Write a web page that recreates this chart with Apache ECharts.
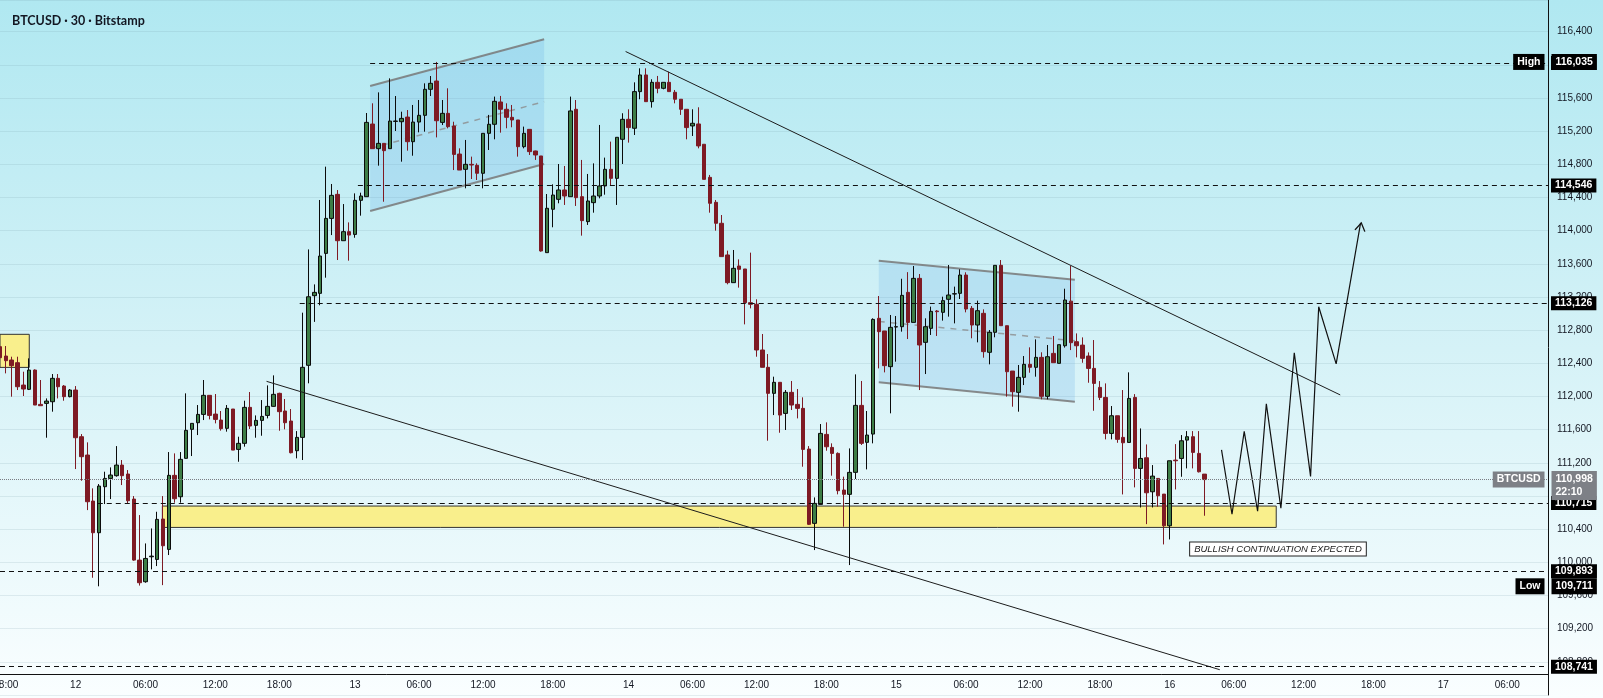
<!DOCTYPE html>
<html>
<head>
<meta charset="utf-8">
<script src="https://cdn.jsdelivr.net/npm/echarts@6/dist/echarts.min.js"></script>
<style>
  html, body { margin: 0; padding: 0; }
  #chart { width: 1603px; height: 698px; }
</style>
</head>
<body>
<div id="chart"></div>
<script>
// BTCUSD 30m candles, 11 Sep 17:30 onwards
const openP = [
  112601,112488,112440,112408,112138,112086,112319,111905,111917,111937,
  112219,112126,111998,112078,111515,111294,110739,110357,110912,111012,
  111045,111173,111065,110763,110027,109766,110067,110035,110522,110156,
  111049,110791,111254,111604,111684,111784,112014,111788,111716,111616,
  111849,111362,111435,111869,111652,111712,111772,111881,112038,111825,
  111704,111346,111507,112376,113216,113244,113726,114148,114438,113879,
  113988,113955,114366,114410,115286,114989,115053,114989,115318,115314,
  115370,115073,115310,115391,115705,115805,115306,115415,115262,114924,
  114740,114800,114788,114692,115174,115283,115552,115464,115367,115335,
  115013,115222,114961,114901,113735,114258,114378,114491,114410,115464,
  114410,114109,114338,114418,114539,114740,114631,115102,115343,115235,
  115677,115878,115556,115789,115717,115789,115669,115585,115464,115263,
  115287,115042,114643,114342,114089,113707,113373,113574,113538,113132,
  113112,112561,112352,112038,112171,111796,112050,111905,111857,111366,
  110470,110699,111543,111386,111314,110872,110820,111085,111893,111447,
  111547,112943,112790,112360,112838,112842,113256,112894,113425,112653,
  112822,113031,113015,113172,113236,113244,113465,113063,112862,113003,
  112533,112774,113582,112854,112307,112050,112231,112388,112352,112472,
  112002,112520,112400,112612,113150,112661,112620,112488,112339,112110,
  111989,111555,111768,111507,111446,111989,111133,111261,110851,111012,
  110823,110441,111233,111253,111474,111515,111314,111064
];
const closeP = [
  112468,112432,112372,112118,112090,112319,111897,111889,111945,112219,
  112118,111998,112078,111503,111274,110731,110357,110920,111012,111053,
  111173,111045,110743,110027,109754,110047,110075,110518,110200,111049,
  110767,111242,111592,111676,111784,112014,111772,111724,111612,111857,
  111354,111435,111869,111644,111712,111760,111881,112026,111817,111684,
  111322,111507,112352,113203,113256,113694,114148,114426,113879,113988,
  113947,114366,114418,115306,114989,115053,114965,115322,115322,115354,
  115073,115310,115391,115705,115777,115326,115415,115254,114920,114731,
  114800,114792,114692,115174,115283,115560,115464,115367,115335,115013,
  115174,114953,114913,113755,114270,114430,114491,114418,115444,114398,
  114121,114358,114418,114539,114740,114631,115126,115343,115243,115677,
  115878,115556,115789,115717,115789,115677,115585,115464,115243,115295,
  115022,114619,114330,114089,113687,113373,113546,113534,113132,113112,
  112561,112352,112038,112171,111776,112050,111897,111857,111362,110458,
  110711,111555,111394,111314,110864,110820,111085,111893,111435,111535,
  112930,112782,112372,112834,112842,113220,112894,113425,112621,112842,
  113027,113023,113156,113224,113240,113465,113055,112862,113035,112541,
  112774,113582,112854,112299,112058,112231,112388,112352,112472,112002,
  112480,112408,112625,113164,112649,112612,112460,112339,112158,111989,
  111555,111768,111483,111442,111977,111133,111253,110839,111040,110803,
  110441,111225,111225,111466,111515,111326,111092,110998
];
const lowP = [
  112279,112279,111998,112078,112006,112078,111897,111889,111503,111817,
  111977,111949,111990,111125,110984,110630,109814,109711,110703,110763,
  111033,110932,110711,110019,109720,109754,109915,109955,109725,110088,
  110719,110719,111250,111282,111535,111716,111724,111676,111588,111576,
  111354,111213,111395,111608,111503,111527,111736,111877,111587,111604,
  111314,111254,111234,112159,112900,113100,113433,113947,113646,113879,
  113638,113915,114181,114410,114989,114784,114349,114989,115202,114832,
  114965,114904,115186,115194,115624,115125,115274,115234,114731,114731,
  114511,114623,114611,114511,114973,115102,115182,115235,115247,114893,
  114993,114913,114853,113747,113735,114041,114330,114310,114410,114298,
  113940,114069,114217,114390,114434,114539,114310,114804,115062,115154,
  115585,115556,115484,115657,115705,115677,115536,115396,115102,115142,
  114993,114619,114217,114000,113687,113353,113373,113313,112870,113063,
  112480,112352,111467,111776,111563,111596,111837,111736,111153,110450,
  110148,110699,111346,111045,110820,110430,109967,111005,111415,111121,
  111435,112339,112291,111797,112420,112782,112693,112894,112078,112271,
  112742,112730,112915,112963,112882,113176,113015,112702,112653,112468,
  112388,112714,112854,111998,111877,111817,112138,112287,112239,111966,
  111966,112408,112400,112590,112560,112472,112407,112166,111828,111957,
  111483,111483,111442,110819,111446,110904,110662,110461,110662,110670,
  110216,110276,110879,111032,111133,111133,111084,110562
];
const highP = [
  112620,112609,112480,112480,112299,112460,112327,112199,111977,112271,
  112271,112138,112090,112126,111547,111447,110892,110944,111093,111145,
  111402,111234,111113,110799,110570,110228,110409,110610,110799,111330,
  111314,111330,112038,111676,111897,112199,112014,112030,111825,111897,
  111849,111515,111949,112054,111772,111957,112134,112255,112046,111970,
  111849,111583,113011,113774,113352,114370,114772,114563,114490,114321,
  114100,114450,114458,115419,115536,115668,115053,115837,115624,115435,
  115455,115516,115576,115777,115865,116035,115576,115717,115314,114993,
  115094,114893,114812,115174,115396,115617,115625,115536,115516,115335,
  115255,115222,114965,114901,114442,114559,114804,114780,115617,115576,
  114853,114684,114812,115275,114881,115074,115126,115416,115464,115789,
  115958,115958,115826,115866,115789,115918,115697,115585,115464,115464,
  115488,115042,114672,114370,114189,113759,113767,113654,113538,113735,
  113172,112754,112512,112239,112171,112078,112187,112090,111990,111402,
  110783,111668,111688,111435,111326,111033,111374,112267,112187,111825,
  112943,113212,112790,112983,112971,113420,113500,113574,113477,112943,
  113084,113043,113204,113586,113325,113534,113498,113091,113156,113051,
  112802,113582,113646,112854,112307,112380,112488,112593,112689,112533,
  112621,112730,112625,113300,113574,112761,112713,112532,112681,112186,
  112158,111885,111768,112078,112291,112029,111615,111422,111173,111012,
  110823,111225,111426,111535,111583,111583,111583,111064
];

// time axis labels and the bar slot they sit on
const tickLabels = ['18:00','12','06:00','12:00','18:00','13','06:00','12:00','18:00','14','06:00','12:00',
  '18:00','15','06:00','12:00','18:00','16','06:00','12:00','18:00','17','06:00'];
const tickSlots = [1,13,25,37,48,61,72,83,95,108,119,130,142,154,166,177,189,201,212,224,236,248,259];

// horizontal levels (price, first slot)
const levelPrices = [116022, 114546, 113126, 110715, 109893, 108741];
const levelStarts = [63.6, 61.5, 51.5, 16.8, 0, 0];
const lastPrice = 110998;
const lastCountdown = '22:10';
const highPrice = 116035;
const lowPrice = 109711;

// supply/demand boxes
const zoneStart = [0, 27.9];
const zoneEnd = [5.03, 219.3];
const zoneTop = [112750, 110679];
const zoneBottom = [112351, 110421];

// parallel channels: [slotStart, slotEnd, upperStart, upperEnd, lowerStart, lowerEnd]
const channels = [
  [63.6, 93.5, 115745, 116308, 114237, 114804],
  [151.0, 184.7, 113638, 113407, 112172, 111936]
];

// trendlines
const upperTrend = [[107.5, 116161], [230.3, 112019]];
const lowerTrend = [[45.8, 112183], [209.6, 108705]];

// projected path
const projSlots = [209.9, 211.7, 213.8, 216.1, 217.6, 220.1, 222.4, 225.2, 226.6, 229.6, 233.8];
const projPrices = [111357, 110580, 111579, 110616, 111912, 110653, 112528, 111036, 113083, 112393, 114094];

const noteText = 'BULLISH CONTINUATION EXPECTED';
const notePos = [219.6, 110160];

const SLOT_COUNT = 267;
const LAST = SLOT_COUNT - 1;
const FONT = 'Liberation Sans';
const fmt = v => Math.round(v).toLocaleString('en-US');

const slots = [];
for (let i = 0; i < SLOT_COUNT; i++) slots.push(String(i));
const candles = openP.map((o, i) => [o, closeP[i], lowP[i], highP[i]]);

const boxLabel = (text, bg, pos) => ({
  show: true, position: pos, distance: 3, formatter: text,
  backgroundColor: bg, color: '#fff', fontFamily: FONT, fontSize: 10.5, fontWeight: 'bold',
  padding: [2, 4, 1, 4], lineHeight: 13
});

const levelLines = levelPrices.map((p, i) => [
  { coord: [levelStarts[i], p], name: fmt(p) },
  { coord: [LAST, p] }
]);
levelLines.push([
  { coord: [0, lastPrice], lineStyle: { type: 'dotted', color: '#7a7d83', width: 1 }, label: { show: false } },
  { coord: [LAST, lastPrice] }
]);

const zoneData = zoneStart.map((s, i) => [
  { coord: [s, zoneTop[i]] },
  { coord: [zoneEnd[i], zoneBottom[i]] }
]);

const projData = projSlots.map((s, i) => [s, projPrices[i]]);
projData[projData.length - 1] = {
  value: projData[projData.length - 1],
  symbol: 'path://M0,10L5,0L10,10',
  symbolSize: [10, 8],
  symbolRotate: -10,
  symbolOffset: [0, 4],
  itemStyle: { color: 'rgba(0,0,0,0)', borderColor: '#111', borderWidth: 1.2 }
};

const option = {
  animation: false,
  backgroundColor: {
    type: 'linear', x: 0, y: 0, x2: 0, y2: 1,
    colorStops: [
      { offset: 0, color: '#b0e8f1' },
      { offset: 0.5, color: '#d5f2f7' },
      { offset: 1, color: '#fafeff' }
    ]
  },
  title: {
    text: 'BTCUSD · 30 · Bitstamp',
    left: 7, top: 9,
    textStyle: { fontFamily: 'Lato', fontSize: 12.5, fontWeight: 'bold', color: '#131722' }
  },
  grid: { left: 0, right: 55, top: 0, bottom: 3, containLabel: false, outerBoundsMode: 'none' },
  xAxis: [
    {
      type: 'category', data: slots, boundaryGap: false, offset: -21,
      axisLine: { onZero: false, lineStyle: { color: '#111', width: 1 } },
      axisTick: { show: false },
      splitLine: { show: false },
      axisLabel: {
        interval: (idx) => tickSlots.indexOf(idx) >= 0,
        formatter: (v, idx) => tickLabels[tickSlots.indexOf(idx)] || '',
        color: '#131722', fontFamily: FONT, fontSize: 10, margin: 6
      }
    },
    { type: 'value', min: 0, max: LAST, show: false, axisLine: { onZero: false } }
  ],
  yAxis: {
    type: 'value', position: 'right', min: 108400, max: 116782, interval: 400, scale: true,
    axisLine: { show: true, onZero: false, lineStyle: { color: '#111', width: 1 } },
    axisTick: { show: false },
    splitLine: { lineStyle: { color: 'rgba(110,150,160,0.16)', width: 1 } },
    axisLabel: {
      showMinLabel: false, showMaxLabel: false,
      color: '#131722', fontFamily: FONT, fontSize: 10, margin: 9,
      formatter: fmt
    }
  },
  series: [
    {
      name: 'channels', type: 'custom', xAxisIndex: 1, yAxisIndex: 0, z: 1,
      data: channels,
      encode: { x: [0, 1], y: [2, 3, 4, 5] },
      renderItem: function (params, api) {
        const x0 = api.value(0), x1 = api.value(1);
        const u0 = api.coord([x0, api.value(2)]);
        const u1 = api.coord([x1, api.value(3)]);
        const l0 = api.coord([x0, api.value(4)]);
        const l1 = api.coord([x1, api.value(5)]);
        const m0 = [(u0[0] + l0[0]) / 2, (u0[1] + l0[1]) / 2];
        const m1 = [(u1[0] + l1[0]) / 2, (u1[1] + l1[1]) / 2];
        const edge = { stroke: 'rgba(120,120,120,0.85)', lineWidth: 2 };
        return {
          type: 'group',
          children: [
            { type: 'polygon', shape: { points: [u0, u1, l1, l0] }, style: { fill: 'rgba(90,165,230,0.2)' } },
            { type: 'line', shape: { x1: u0[0], y1: u0[1], x2: u1[0], y2: u1[1] }, style: edge },
            { type: 'line', shape: { x1: l0[0], y1: l0[1], x2: l1[0], y2: l1[1] }, style: edge },
            { type: 'line', shape: { x1: m0[0], y1: m0[1], x2: m1[0], y2: m1[1] },
              style: { stroke: 'rgba(140,140,140,0.8)', lineWidth: 1.5, lineDash: [6, 6] } }
          ]
        };
      }
    },
    {
      name: 'BTCUSD', type: 'candlestick', xAxisIndex: 0, yAxisIndex: 0, z: 3,
      data: candles, barWidth: 4,
      itemStyle: {
        color: '#3d7d46', color0: '#7e1a24',
        borderColor: '#0b0b0b', borderColor0: '#7e1a24', borderWidth: 1
      }
    },
    {
      name: 'lowerTrend', type: 'line', xAxisIndex: 1, yAxisIndex: 0, z: 4,
      data: lowerTrend, symbol: 'none',
      lineStyle: { color: '#1c1c1c', width: 1 },
      markArea: {
        silent: true,
        itemStyle: { color: '#f9ef8c', borderColor: '#333', borderWidth: 1 },
        data: zoneData
      },
      markLine: {
        silent: true, symbol: 'none', precision: 0,
        lineStyle: { color: '#111', type: [5, 4], width: 1 },
        label: {
          show: true, position: 'end', distance: 3, formatter: '{b}',
          backgroundColor: '#000', color: '#fff', fontFamily: FONT, fontSize: 10.5, fontWeight: 'bold',
          padding: [2, 4, 1, 4]
        },
        data: levelLines
      }
    },
    {
      name: 'upperTrend', type: 'line', xAxisIndex: 1, yAxisIndex: 0, z: 4,
      data: upperTrend, symbol: 'none',
      lineStyle: { color: '#1c1c1c', width: 1 }
    },
    {
      name: 'projection', type: 'line', xAxisIndex: 1, yAxisIndex: 0, z: 4,
      data: projData, symbol: 'none', showSymbol: true,
      lineStyle: { color: '#111', width: 1.2 },
      markPoint: {
        silent: true, symbol: 'circle', symbolSize: 1,
        itemStyle: { color: 'rgba(0,0,0,0)' },
        data: [
          { coord: [LAST, highPrice], label: boxLabel('High', '#000', 'left') },
          { coord: [LAST, highPrice], label: boxLabel(fmt(highPrice), '#000', 'right') },
          { coord: [LAST, lowPrice], label: boxLabel('Low', '#000', 'left') },
          { coord: [LAST, lowPrice], label: boxLabel(fmt(lowPrice), '#000', 'right') },
          { coord: [LAST, lastPrice], label: boxLabel('BTCUSD', '#7d8086', 'left') },
          { coord: [LAST, lastPrice], label: Object.assign(boxLabel(fmt(lastPrice) + '\n' + lastCountdown, '#7d8086', 'right'), { offset: [0, 6] }) },
          {
            coord: notePos,
            label: {
              show: true, position: 'inside', formatter: noteText,
              fontFamily: FONT, fontStyle: 'italic', fontSize: 9.5, color: '#222',
              backgroundColor: '#fff', borderColor: '#222', borderWidth: 1, padding: [2, 4, 1, 4]
            }
          }
        ]
      }
    }
  ]
};

const myChart = echarts.init(document.getElementById('chart'));
myChart.setOption(option);
window.addEventListener('resize', function () {
  myChart.resize();
});
</script>
</body>
</html>
